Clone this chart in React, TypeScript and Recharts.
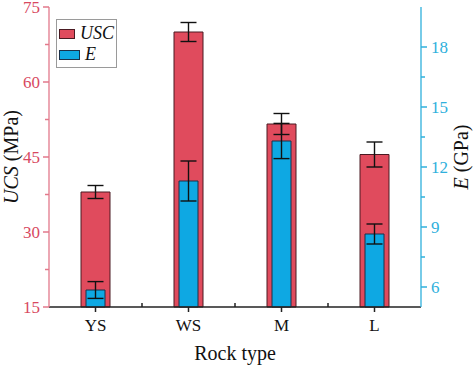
import {
  ComposedChart,
  Bar,
  ErrorBar,
  XAxis,
  YAxis,
  Legend,
} from "recharts";

const rockTypes = ["YS", "WS", "M", "L"];
const ucsValues = [38, 70, 51.6, 45.5];
const ucsErrors = [1.3, 1.9, 2.1, 2.5];
const eValues = [5.85, 11.3, 13.3, 8.65];
const eErrors = [0.42, 1.0, 0.88, 0.5];

const ucsTicks = [15, 22.5, 30, 37.5, 45, 52.5, 60, 67.5, 75];
const eTicks = [6, 7.5, 9, 10.5, 12, 13.5, 15, 16.5, 18];

const data = rockTypes.map((name, i) => ({
  name,
  ucs: ucsValues[i],
  ucsErr: ucsErrors[i],
  e: eValues[i],
  eErr: eErrors[i],
}));

const FONT = "Liberation Serif";
const RED = "#e04b5d";
const RED_AXIS = "#e2798b";
const RED_TEXT = "#d8495f";
const BLUE = "#0ea8e3";
const BLUE_AXIS = "#2fb0dc";

function LeftTick(props: any) {
  const { x, y, payload } = props;
  const major = payload.value % 15 === 0;
  return (
    <g>
      <path d={`M${x - (major ? 6 : 4)},${y}H${x}`} stroke={RED_AXIS} strokeWidth={1.5} fill="none" />
      {major && (
        <text x={x - 9} y={y + 6} textAnchor="end" fill={RED_TEXT} fontSize={17} fontFamily={FONT}>
          {payload.value}
        </text>
      )}
    </g>
  );
}

function RightTick(props: any) {
  const { x, y, payload } = props;
  const major = payload.value % 3 === 0;
  return (
    <g>
      <path d={`M${x},${y}H${x + (major ? 6 : 4)}`} stroke={BLUE_AXIS} strokeWidth={1.5} fill="none" />
      {major && (
        <text x={x + 10} y={y + 6} textAnchor="start" fill={BLUE_AXIS} fontSize={17} fontFamily={FONT}>
          {payload.value}
        </text>
      )}
    </g>
  );
}

function BottomTick(props: any) {
  const { x, y, payload, index } = props;
  const off = payload.offset || 46.5;
  return (
    <g>
      <path d={`M${x},${y}V${y + 5}`} stroke="#222" strokeWidth={1.5} fill="none" />
      {index < rockTypes.length - 1 && (
        <path d={`M${x + off},${y}V${y - 4}`} stroke="#222" strokeWidth={1.5} fill="none" />
      )}
      <text x={x} y={y + 24} textAnchor="middle" fill="#111" fontSize={17} fontFamily={FONT}>
        {payload.value}
      </text>
    </g>
  );
}

function TopTick(props: any) {
  const { x, y, payload, index } = props;
  const off = payload.offset || 46.5;
  return (
    <g>
      <path d={`M${x},${y}V${y + 6}`} stroke="#222" strokeWidth={1.5} fill="none" />
      {index < rockTypes.length - 1 && (
        <path d={`M${x + off},${y}V${y + 4}`} stroke="#222" strokeWidth={1.5} fill="none" />
      )}
    </g>
  );
}

function LegendBox() {
  const items = [
    { label: "USC", color: RED, border: "#4a1a22" },
    { label: "E", color: BLUE, border: "#1b3048" },
  ];
  return (
    <div
      style={{
        border: "1px solid #9a9a9a",
        background: "#fff",
        padding: "3px 2px 2px 2px",
        fontFamily: FONT,
        fontStyle: "italic",
        fontSize: 18,
        lineHeight: "21px",
        width: 55,
        boxSizing: "content-box",
      }}
    >
      {items.map((it) => (
        <div key={it.label} style={{ display: "flex", alignItems: "center" }}>
          <span
            style={{
              display: "inline-block",
              width: 19,
              height: 8,
              background: it.color,
              border: `1px solid ${it.border}`,
              marginRight: 5,
            }}
          />
          <span style={{ color: "#111" }}>{it.label}</span>
        </div>
      ))}
    </div>
  );
}

export default function App() {
  return (
    <div style={{ position: "absolute", left: 0, top: 0, background: "#fff" }}>
      <ComposedChart
        width={474}
        height={366}
        data={data}
        margin={{ top: 7, right: 0, bottom: 0, left: 0 }}
      >
        <XAxis
          xAxisId="bottom"
          dataKey="name"
          orientation="bottom"
          height={59}
          tickSize={0}
          tickMargin={0}
          tickLine={false}
          axisLine={{ stroke: "#222", strokeWidth: 1.3 }}
          tick={(p: any) => <BottomTick {...p} />}
          interval={0}
          label={{
            content: () => (
              <text x={235} y={360} textAnchor="middle" fill="#111" fontSize={20} fontFamily={FONT}>
                Rock type
              </text>
            ),
          }}
        />
        <XAxis
          xAxisId="top"
          dataKey="name"
          orientation="top"
          height={0}
          tickSize={0}
          tickMargin={0}
          tickLine={false}
          axisLine={{ stroke: "#222", strokeWidth: 1.3 }}
          tick={(p: any) => <TopTick {...p} />}
          interval={0}
        />
        <YAxis
          yAxisId="ucs"
          orientation="left"
          width={49}
          domain={[15, 75]}
          ticks={ucsTicks}
          interval={0}
          tickSize={0}
          tickMargin={0}
          tickLine={false}
          axisLine={{ stroke: RED_AXIS, strokeWidth: 1.3 }}
          tick={(p: any) => <LeftTick {...p} />}
          label={{
            content: () => (
              <text
                x={0}
                y={0}
                transform="translate(18,157) rotate(-90)"
                textAnchor="middle"
                fill="#111"
                fontSize={20}
                fontFamily={FONT}
              >
                <tspan fontStyle="italic">UCS</tspan> (MPa)
              </text>
            ),
          }}
        />
        <YAxis
          yAxisId="e"
          orientation="right"
          width={53}
          domain={[5, 20]}
          ticks={eTicks}
          interval={0}
          tickSize={0}
          tickMargin={0}
          tickLine={false}
          axisLine={{ stroke: BLUE_AXIS, strokeWidth: 1.3 }}
          tick={(p: any) => <RightTick {...p} />}
          label={{
            content: () => (
              <text
                x={0}
                y={0}
                transform="translate(468,157) rotate(-90)"
                textAnchor="middle"
                fill="#111"
                fontSize={20}
                fontFamily={FONT}
              >
                <tspan fontStyle="italic">E</tspan> (GPa)
              </text>
            ),
          }}
        />
        <Legend
          verticalAlign="middle"
          layout="horizontal"
          content={<LegendBox />}
          wrapperStyle={{ position: "absolute", left: 56, top: 19, width: 60, height: "auto" }}
        />
        <Bar
          xAxisId="bottom"
          yAxisId="ucs"
          dataKey="ucs"
          name="USC"
          barSize={29}
          fill={RED}
          stroke="#4a1a22"
          strokeWidth={1}
          isAnimationActive={false}
        >
          <ErrorBar dataKey="ucsErr" width={8} stroke="#111" strokeWidth={1.4} />
        </Bar>
        <Bar
          xAxisId="top"
          yAxisId="e"
          dataKey="e"
          name="E"
          barSize={19}
          fill={BLUE}
          stroke="#1b3048"
          strokeWidth={1}
          isAnimationActive={false}
        >
          <ErrorBar dataKey="eErr" width={8} stroke="#111" strokeWidth={1.4} />
        </Bar>
      </ComposedChart>
    </div>
  );
}
